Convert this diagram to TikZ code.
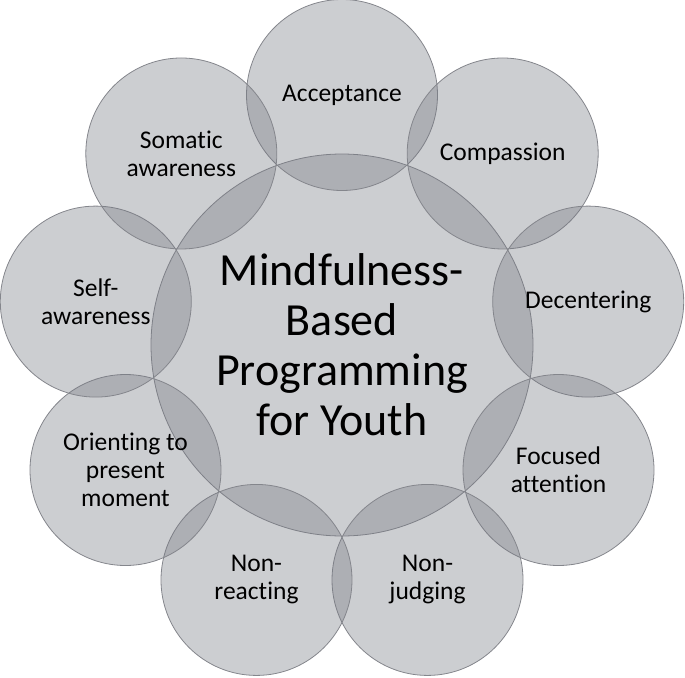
\documentclass[tikz,border=0pt]{standalone}
\usepackage{fontspec}
\setmainfont[Ligatures={NoCommon}]{Carlito}
\usetikzlibrary{calc}
\definecolor{circfill}{RGB}{118,121,130}
\definecolor{circline}{RGB}{132,134,140}
\tikzset{
  disc/.style={circle, inner sep=0pt, fill=circfill, fill opacity=0.37,
    text opacity=1, draw=circline, draw opacity=1, line width=0.8pt,
    align=center, text=black},
  outer/.style={disc, minimum size=191pt,
    font=\fontsize{25.5pt}{28pt}\selectfont},
  hub/.style={disc, minimum size=382pt,
    font=\fontsize{46pt}{50pt}\selectfont}
}
\begin{document}
\begin{tikzpicture}[x=1pt,y=1pt]
\useasboundingbox (0,0) rectangle (685,-677);
\coordinate (c) at (342,-345);
\node[hub] (hubnode) at (c) {Mindfulness-\\Based\\Programming\\for Youth};
\node[outer] (acc) at ($(c)+(90:250)$) {Acceptance};
\node[outer] (comp) at ($(c)+(50:250)$) {Compassion};
\node[outer] (dec) at ($(c)+(10:250)$) {Decentering};
\node[outer] (foc) at ($(c)+(-30:250)$) {Focused\\attention};
\node[outer] (judg) at ($(c)+(-70:250)$) {Non-\\judging};
\node[outer] (react) at ($(c)+(-110:250)$) {Non-\\reacting};
\node[outer] (orient) at ($(c)+(-150:250)$) {Orienting to\\present\\moment};
\node[outer] (selfaw) at ($(c)+(170:250)$) {Self-\\awareness};
\node[outer] (soma) at ($(c)+(130:250)$) {Somatic\\awareness};
\end{tikzpicture}
\end{document}
